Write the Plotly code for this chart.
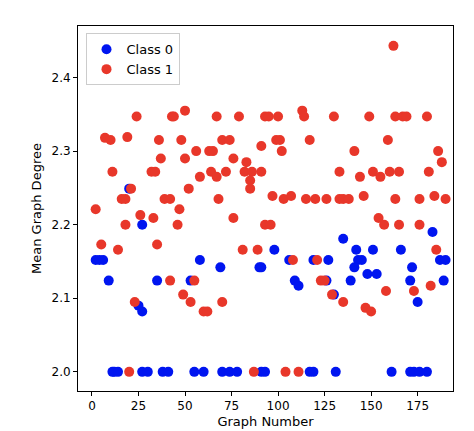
import plotly.graph_objects as go

# class 0 (blue)
c0_x = [20, 27, 2, 4, 6, 9, 25, 27, 35, 53, 58, 69, 90,
        11, 12, 14, 27, 30, 38, 41, 55, 60, 70, 74, 78, 91,
        98, 91, 106, 119, 127, 109, 111, 126, 130, 135, 142, 143, 145, 151,
        141, 139, 148, 153, 166, 172, 171, 175, 183, 187, 190, 189,
        93, 117, 119, 131, 161, 171, 173, 176, 180]
c0_y = [2.249, 2.2, 2.152, 2.152, 2.152, 2.124, 2.09, 2.082, 2.124, 2.124, 2.152, 2.142, 2.142,
        2.0, 2.0, 2.0, 2.0, 2.0, 2.0, 2.0, 2.0, 2.0, 2.0, 2.0, 2.0, 2.0,
        2.166, 2.142, 2.152, 2.152, 2.152, 2.124, 2.117, 2.124, 2.105, 2.181, 2.166, 2.152, 2.152, 2.166,
        2.142, 2.124, 2.133, 2.133, 2.166, 2.142, 2.124, 2.095, 2.19, 2.152, 2.152, 2.124,
        2.0, 2.0, 2.0, 2.0, 2.0, 2.0, 2.0, 2.0, 2.0]

# class 1 (red)
c1_x = [2, 7, 10, 24, 19, 11, 21, 16, 18, 26, 18, 5, 14, 20, 23, 33, 32, 34, 36, 37,
        43, 44, 50, 39, 42, 47, 46, 35, 42, 55, 49, 53, 60, 62, 48, 50, 56, 63, 65, 67,
        52, 58, 64, 67, 68, 70, 70, 74, 76, 72, 76, 81, 89, 79, 83, 82, 86, 91, 85, 85,
        91, 93, 93, 87,
        95, 100, 99, 101, 102, 113, 114, 117, 130, 149, 162, 163, 167, 169, 180, 159,
        141, 186, 188, 133, 144, 151, 155, 160, 165, 181, 97, 103, 107, 115, 120, 126,
        133, 135, 138, 146, 163, 176, 184, 190, 154, 157, 96, 165, 176, 185, 108, 121,
        123, 125, 129, 135, 147, 150, 158, 173, 182, 104, 111]
c1_y = [2.221, 2.318, 2.315, 2.347, 2.319, 2.272, 2.249, 2.235, 2.235, 2.213, 2.2, 2.173, 2.166, 2.0, 2.095, 2.209, 2.272, 2.272, 2.315, 2.29,
        2.347, 2.347, 2.355, 2.235, 2.235, 2.221, 2.2, 2.173, 2.124, 2.124, 2.105, 2.095, 2.082, 2.082, 2.315, 2.29, 2.3, 2.3, 2.3, 2.347,
        2.249, 2.265, 2.272, 2.265, 2.235, 2.095, 2.315, 2.315, 2.29, 2.272, 2.209, 2.166, 2.166, 2.347, 2.285, 2.272, 2.272, 2.272, 2.26, 2.249,
        2.307, 2.347, 2.2, 2.0,
        2.347, 2.347, 2.315, 2.315, 2.3, 2.355, 2.347, 2.315, 2.347, 2.347, 2.443, 2.347, 2.347, 2.347, 2.347, 2.315,
        2.3, 2.3, 2.285, 2.272, 2.265, 2.272, 2.265, 2.272, 2.272, 2.272, 2.239, 2.235, 2.239, 2.235, 2.235, 2.235,
        2.235, 2.235, 2.235, 2.239, 2.235, 2.235, 2.239, 2.235, 2.209, 2.2, 2.2, 2.2, 2.2, 2.166, 2.152, 2.152,
        2.124, 2.124, 2.105, 2.095, 2.087, 2.082, 2.11, 2.11, 2.117, 2.0, 2.0]

x_ticks = [0, 25, 50, 75, 100, 125, 150, 175]
y_ticks = [2.0, 2.1, 2.2, 2.3, 2.4]

fig = go.Figure()
fig.add_trace(go.Scatter(x=c0_x, y=c0_y, mode='markers', name='Class 0',
                         marker=dict(color='#0015f0', size=10)))
fig.add_trace(go.Scatter(x=c1_x, y=c1_y, mode='markers', name='Class 1',
                         marker=dict(color='#e8372a', size=10)))

axis = dict(showgrid=False, zeroline=False, showline=True, mirror=True,
            linecolor='black', linewidth=1, ticks='outside', ticklen=4,
            tickcolor='black', tickfont=dict(size=12))
fig.update_xaxes(range=[-7.5, 194], tickvals=x_ticks,
                 title=dict(text='Graph Number', font=dict(size=13), standoff=4), **axis)
fig.update_yaxes(range=[1.974, 2.47], tickvals=y_ticks, tickformat='.1f',
                 title=dict(text='Mean Graph Degree', font=dict(size=13), standoff=6), **axis)
fig.update_layout(
    width=474, height=431,
    margin=dict(l=70, r=29, t=18, b=46),
    plot_bgcolor='white', paper_bgcolor='white',
    font=dict(family='DejaVu Sans', size=13, color='black'),
    legend=dict(x=0.02, y=0.98, xanchor='left', yanchor='top',
                bordercolor='#cccccc', borderwidth=1, bgcolor='white',
                font=dict(size=13)),
)
fig.write_html("out.html")
